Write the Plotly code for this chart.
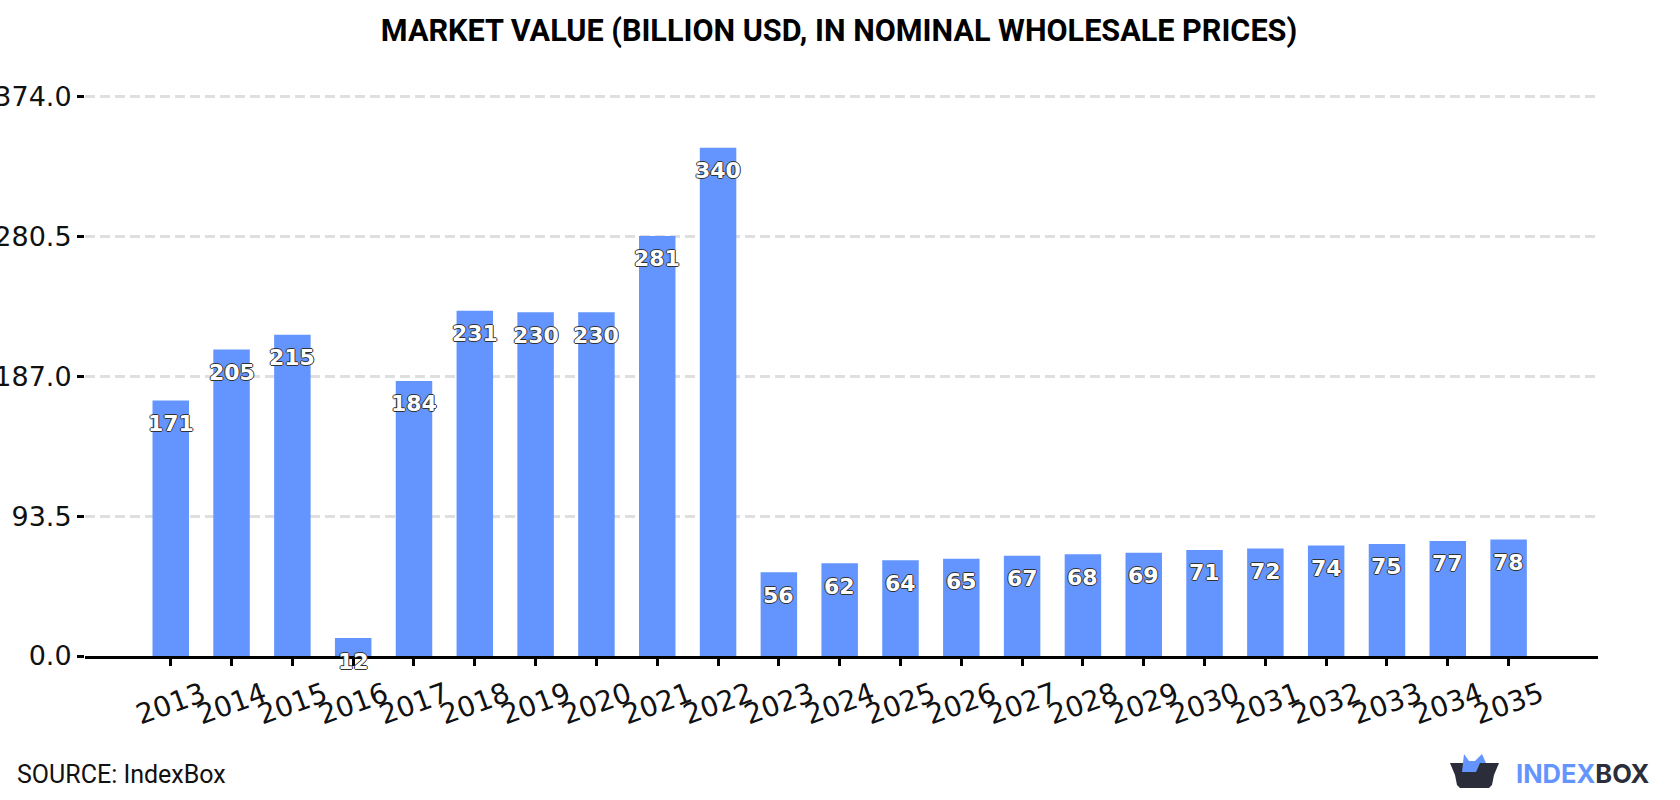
import plotly.graph_objects as go

# Market value series, 2013-2035
years = [str(y) for y in range(2013, 2036)]
values = [171, 205, 215, 12, 184, 231, 230, 230, 281, 340, 56, 62, 64, 65, 67, 68, 69, 71, 72, 74, 75, 77, 78]
y_ticks = [0.0, 93.5, 187.0, 280.5, 374.0]

TITLE = "MARKET VALUE (BILLION USD, IN NOMINAL WHOLESALE PRICES)"
SOURCE = "SOURCE: IndexBox"
BAR_BLUE = "#6495ff"
DARK = "#2b2d3a"
W, H = 1680, 800
LEFT, RIGHT, TOP, BOTTOM = 85, 82, 93.5, 144
OUTLINE = "-1px 0 0.5px #333, 1px 0 0.5px #333, 0 -1px 0.5px #333, 0 1px 0.5px #333"


def px_path(points):
    """Closed SVG path in paper coordinates from page-pixel points."""
    pw, ph = W - LEFT - RIGHT, H - TOP - BOTTOM
    coords = [((x - LEFT) / pw, (H - BOTTOM - y) / ph) for x, y in points]
    return "M" + " L".join(f"{a:.5f},{b:.5f}" for a, b in coords) + " Z"


fig = go.Figure(go.Bar(x=years, y=values, width=0.6, marker=dict(color=BAR_BLUE, line_width=0), hoverinfo="x+y"))

# Value labels sit just under the top of each bar; a numeric x is the category index
annotations = [
    dict(x=i, y=v, xref="x", yref="y", text=str(v), showarrow=False, yshift=-23, yanchor="middle",
         font=dict(family="DejaVu Sans", size=22, color="white", weight="bold", shadow=OUTLINE))
    for i, v in enumerate(values)
]
annotations += [
    dict(x=(15 - LEFT) / (W - LEFT - RIGHT), y=(H - BOTTOM - 775) / (H - TOP - BOTTOM), xref="paper", yref="paper",
         xanchor="left", yanchor="middle", text=SOURCE, showarrow=False,
         font=dict(family="Roboto", size=25, color="#111")),
    dict(x=(1514 - LEFT) / (W - LEFT - RIGHT), y=(H - BOTTOM - 774) / (H - TOP - BOTTOM), xref="paper", yref="paper",
         xanchor="left", yanchor="middle", showarrow=False,
         text=f'<span style="color:{BAR_BLUE}">INDEX</span><span style="color:{DARK}">BOX</span>',
         font=dict(family="Inter", size=25.5, weight="bold")),
]

# Brand mark: dark open box with a blue crown
shapes = [
    dict(type="path", xref="paper", yref="paper", line_width=0, fillcolor=DARK,
         path=px_path([(1450, 763), (1499, 763), (1494, 775), (1492, 785), (1489, 788), (1460, 788),
                       (1457, 785), (1455, 775)])),
    dict(type="path", xref="paper", yref="paper", line_width=0, fillcolor=BAR_BLUE,
         path=px_path([(1462, 772), (1464, 754), (1469, 761), (1475, 761), (1482, 754), (1486, 763),
                       (1480, 763), (1476, 772)])),
]

fig.update_layout(
    width=W, height=H,
    margin=dict(l=LEFT, r=RIGHT, t=TOP, b=BOTTOM, autoexpand=False),
    paper_bgcolor="white", plot_bgcolor="white", showlegend=False,
    title=dict(text=TITLE, x=839 / W, xanchor="center", y=1 - 30 / H, yanchor="middle",
               font=dict(family="Roboto", size=30.6, color="black", weight="bold")),
    annotations=annotations, shapes=shapes,
    xaxis=dict(type="category", categoryorder="array", categoryarray=years, range=[-1.41, 23.47],
               showgrid=False, showline=True, linecolor="black", linewidth=2.5,
               ticks="outside", ticklen=7, tickwidth=2.5, tickcolor="black",
               tickangle=-20, ticklabelshift=32, ticklabelstandoff=2,
               tickfont=dict(family="DejaVu Sans", size=28, color="#111")),
    yaxis=dict(range=[0, 376], tickvals=y_ticks, tickformat=".1f", showline=False, zeroline=False,
               showgrid=True, gridcolor="#dfdfdf", gridwidth=2.5, griddash="10px,5px",
               ticks="outside", ticklen=7, tickwidth=2.5, tickcolor="black",
               tickfont=dict(family="DejaVu Sans", size=27, color="#111")),
)

fig.write_html("out.html")
